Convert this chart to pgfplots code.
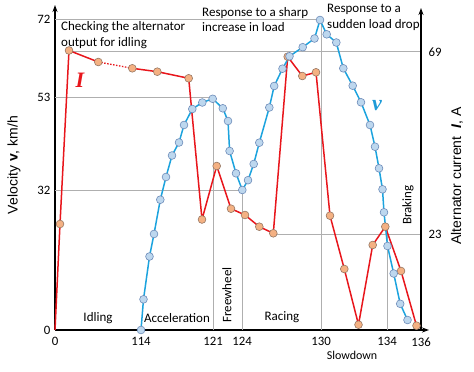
\documentclass[border=0pt]{standalone}
\usepackage{pgfplots}
\pgfplotsset{compat=1.18}
\usepackage{fontspec}
\setmainfont{Carlito}
\newfontfamily\arialf{Liberation Sans}
\newfontfamily\serf{Liberation Serif}
\usetikzlibrary{arrows.meta}
\definecolor{vline}{RGB}{28,163,222}
\definecolor{vfill}{RGB}{189,215,238}
\definecolor{vedge}{RGB}{110,140,185}
\definecolor{iline}{RGB}{232,22,28}
\definecolor{ifill}{RGB}{244,177,131}
\definecolor{iedge}{RGB}{150,120,100}
\definecolor{gridc}{RGB}{175,175,175}
\definecolor{vtext}{RGB}{30,155,215}
\begin{document}
\begin{tikzpicture}
\path[use as bounding box] (0,0) rectangle (474pt,372pt);
\begin{axis}[
  at={(55pt,42pt)}, anchor=south west, scale only axis,
  width=374pt, height=325pt,
  xmin=55, xmax=429, ymin=0, ymax=325,
  axis x line=bottom, axis y line=left,
  axis line style={line width=1.3pt, -{Stealth[length=7pt,width=5pt]}},
  xtick={55,141,213,242,321,387,421},
  xticklabels={0,114,121,124,130,134,136},
  ytick={0,140,233,311},
  yticklabels={0,32,53,72},
  major tick length=0pt,
  tick label style={font=\fontsize{12.8}{14}\selectfont},
  xticklabel style={yshift=-4pt},
  yticklabel style={xshift=-1pt},
  clip=false,
]
% grid lines
\draw[gridc, line width=0.9pt] (axis cs:55,311) -- (axis cs:320,311);
\draw[gridc, line width=0.9pt] (axis cs:69,279) -- (axis cs:421,279);
\draw[gridc, line width=0.9pt] (axis cs:55,233) -- (axis cs:213,233);
\draw[gridc, line width=0.9pt] (axis cs:55,140) -- (axis cs:242,140);
\draw[gridc, line width=0.9pt] (axis cs:273,96) -- (axis cs:421,96);
\draw[gridc, line width=0.9pt] (axis cs:213,0) -- (axis cs:213,233);
\draw[gridc, line width=0.9pt] (axis cs:242,0) -- (axis cs:242,140);
\draw[gridc, line width=0.9pt] (axis cs:321,0) -- (axis cs:321,311);
\draw[gridc, line width=0.9pt] (axis cs:387,0) -- (axis cs:387,103);
% right axis
\draw[line width=1.3pt, -{Stealth[length=7pt,width=5pt]}] (axis cs:421,0) -- (axis cs:421,322);

% current I
\addplot[iline, line width=1.5pt, mark=none] coordinates {
(55,0)(60,106)(69,279.5)(98.3,268)};
\addplot[iline, line width=1.3pt, mark=none, dash pattern=on 1.5pt off 1.5pt] coordinates {
(98.3,268)(132.3,261.7)};
\addplot[iline, line width=1.5pt, mark=none] coordinates {
(132.3,261.7)(157.3,258.3)(188.7,251.7)(202,110.5)(216.7,164)(231,121.3)(245,115)
(259.3,103.3)(273.3,96.7)(287.7,273.3)(302.3,254)(316,257.7)(330,114.3)(344.3,61)
(358.5,5.3)(372.7,85)(385.3,103.3)(401,59)(416.5,4.3)};
\addplot[only marks, mark=*, mark size=3.9pt, mark options={fill=ifill, draw=iedge, line width=0.6pt}] coordinates {
(60,106)(69,279.5)(98.3,268)(132.3,261.7)(157.3,258.3)(188.7,251.7)(202,110.5)(216.7,164)(231,121.3)(245,115)
(259.3,103.3)(273.3,96.7)(287.7,273.3)(302.3,254)(316,257.7)(330,114.3)(344.3,61)
(358.5,5.3)(372.7,85)(385.3,103.3)(401,59)(416.5,4.3)};

% velocity v
\addplot[vline, line width=1.5pt, mark=*, mark size=3.9pt, mark options={fill=vfill, draw=vedge, line width=0.6pt}] coordinates {
(141,0)(143.5,30.7)(149.5,73.5)(154,96)(160.3,130.3)(166,153)(172,174.5)(179,187.5)
(184,205)(192.3,221)(202.3,227.5)(212.7,231.2)(222.8,221.7)(228,209)(229.6,179)
(236,156.7)(242.3,140)(248,149.8)(253.7,166)(259.3,187.3)(269.3,222.5)(274.2,244)
(282.5,261.3)(289.5,273.7)(302.7,282.8)(314.5,291.5)(320,310)(326.7,295.7)(336.3,287.5)
(343.3,261.7)(352.7,244.3)(361,227.7)(370,205)(375,183.3)(379,161.7)(382.5,140.7)
(384,117.7)(387.5,84)(393.7,56.5)(400.2,26.2)(407.5,10)};

% right tick labels
\node[anchor=west, font=\fontsize{12.8}{14}\selectfont] at (axis cs:425,278) {69};
\node[anchor=west, font=\fontsize{12.8}{14}\selectfont] at (axis cs:425,96) {23};

% annotations
\node[anchor=north west, inner sep=0pt, align=left, font=\fontsize{13}{16}\selectfont] at (axis cs:61,309) {Checking the alternator\\output for idling};
\node[anchor=north west, inner sep=0pt, align=left, font=\fontsize{13}{15.5}\selectfont] at (axis cs:202,323) {Response to a sharp\\increase in load};
\node[anchor=north west, inner sep=0pt, align=left, font=\fontsize{13}{15.5}\selectfont] at (axis cs:327,326) {Response to a\\sudden load drop};
\node[font=\fontsize{13}{14}\selectfont] at (axis cs:98,12) {Idling};
\node[font=\fontsize{13}{14}\selectfont] at (axis cs:177,12) {Acceleration};
\node[font=\fontsize{13}{14}\selectfont] at (axis cs:282,13) {Racing};
\node[font=\fontsize{13}{14}\selectfont, rotate=90] at (axis cs:227,35) {Freewheel};
\node[font=\fontsize{13}{14}\selectfont, rotate=90] at (axis cs:408,125) {Braking};
\node[font=\fontsize{12}{14}\selectfont] at (axis cs:352,-25) {Slowdown};
\node[text=iline, font=\serf\bfseries\itshape\fontsize{22}{24}\selectfont] at (axis cs:80,250) {I};
\node[text=vtext, font=\serf\bfseries\itshape\fontsize{22}{24}\selectfont] at (axis cs:377,224) {v};
\node[rotate=90, font=\arialf\fontsize{14}{16}\selectfont] at (axis cs:14,165) {Velocity \textbf{v}, km/h};
\node[rotate=90, font=\arialf\fontsize{14}{16}\selectfont] at (axis cs:457,154) {Alternator current~ \textbf{\itshape I}, A};
\end{axis}
\end{tikzpicture}
\end{document}
